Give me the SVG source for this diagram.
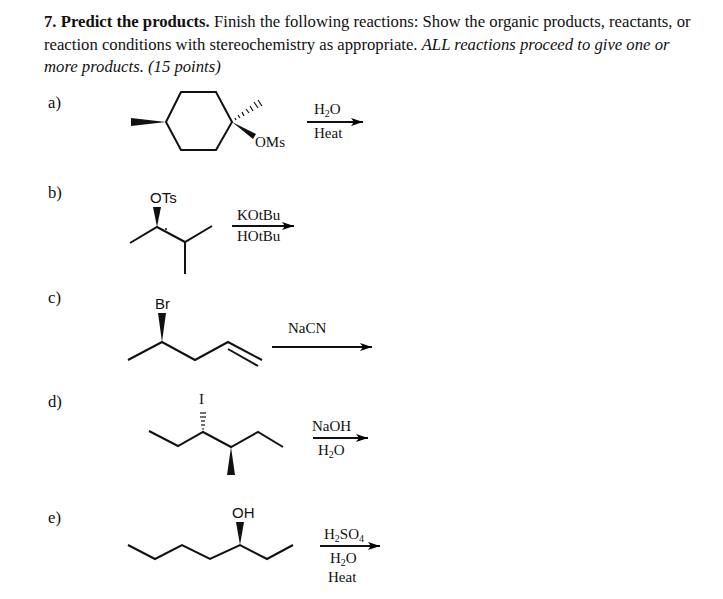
<svg xmlns="http://www.w3.org/2000/svg" width="723" height="599" viewBox="0 0 723 599">
<defs><marker id="ah" markerWidth="12" markerHeight="8" refX="12" refY="4" orient="auto" markerUnits="userSpaceOnUse"><path d="M0,0 L12,4 L0,8 L3,4 Z" fill="#000"/></marker></defs>
<style>
.t{font-family:"Liberation Serif",serif;font-size:16.7px;fill:#111}
.s{font-family:"Liberation Sans",sans-serif;font-size:15px;fill:#111}
.r{font-family:"Liberation Serif",serif;font-size:15px;fill:#111}
.b{stroke:#111;stroke-width:2;fill:none}
.w{fill:#111}
</style>
<rect width="723" height="599" fill="#fff"/>
<text class="t" x="44" y="27"><tspan font-weight="bold">7. Predict the products.</tspan> Finish the following reactions: Show the organic products, reactants, or</text>
<text class="t" x="44" y="50">reaction conditions with stereochemistry as appropriate. <tspan font-style="italic">ALL reactions proceed to give one or</tspan></text>
<text class="t" x="44" y="72" font-style="italic">more products. (15 points)</text>
<g id="a"><text class="t" x="48" y="108">a)</text>
<polygon class="b" points="166,122 181,92 216,92 232,122 216,150 181,150"/>
<polygon class="w" points="166,122 131,118 131,126"/>
<g stroke="#111" stroke-width="1.2"><line x1="236" y1="120" x2="235" y2="118"/><line x1="240" y1="118" x2="238" y2="115"/><line x1="244" y1="116" x2="242" y2="112"/><line x1="249" y1="113" x2="246" y2="109"/><line x1="253" y1="111" x2="250" y2="106"/><line x1="258" y1="108" x2="254" y2="102"/><line x1="262" y1="106" x2="258" y2="100"/></g>
<polygon class="w" points="232,122 256,134 253,139"/>
<text class="r" x="255" y="147">OMs</text>
<line class="b" x1="307" y1="122" x2="363" y2="122" stroke-width="1.2" marker-end="url(#ah)"/>
<text class="r" x="314" y="114">H<tspan font-size="10" dy="3">2</tspan><tspan dy="-3">O</tspan></text>
<text class="r" x="314" y="138">Heat</text></g>
<g id="b"><text class="t" x="48" y="198">b)</text>
<text class="s" x="150" y="203">OTs</text>
<polygon class="w" points="157,227 153,207 161,207"/>
<circle cx="166" cy="229" r="1" fill="#111"/>
<polyline class="b" points="130,243 157,227 185,242 212,226"/><line class="b" x1="185" y1="242" x2="185" y2="274"/>
<line class="b" x1="232" y1="226" x2="294" y2="226" stroke-width="1.2" marker-end="url(#ah)"/>
<text class="r" x="237" y="220">KOtBu</text><text class="r" x="237" y="241">HOtBu</text></g>
<g id="c"><text class="t" x="48" y="303">c)</text>
<text class="s" x="155" y="309">Br</text>
<polygon class="w" points="162,342 158,313 166,313"/>
<polyline class="b" points="128,360 162,342 195,360 228,342 262,360"/><line class="b" x1="228" y1="349" x2="258" y2="366" stroke-width="1.6"/>
<line class="b" x1="272" y1="347" x2="372" y2="347" stroke-width="1.2" marker-end="url(#ah)"/>
<text class="r" x="288" y="333">NaCN</text></g>
<g id="d"><text class="t" x="48" y="407">d)</text>
<text class="r" x="199" y="404">I</text>
<g stroke="#111" stroke-width="1.2"><line x1="202" y1="429" x2="204" y2="429"/><line x1="201" y1="425" x2="205" y2="425"/><line x1="201" y1="421" x2="205" y2="421"/><line x1="200" y1="417" x2="206" y2="417"/><line x1="200" y1="413" x2="206" y2="413"/></g>
<polyline class="b" points="149,431 178,446 203,432 231,447 258,432 283,447"/>
<polygon class="w" points="231,447 227,475 235,475"/>
<line class="b" x1="313" y1="438" x2="368" y2="438" stroke-width="1.2" marker-end="url(#ah)"/>
<text class="r" x="312" y="431">NaOH</text><text class="r" x="318" y="455">H<tspan font-size="10" dy="3">2</tspan><tspan dy="-3">O</tspan></text></g>
<g id="e"><text class="t" x="48" y="523">e)</text>
<text class="s" x="232" y="518">OH</text>
<polygon class="w" points="240,545 236,522 244,522"/>
<polyline class="b" points="128,545 155,559 182,545 210,559 240,545 267,559 293,545"/>
<line class="b" x1="320" y1="546" x2="380" y2="546" stroke-width="1.2" marker-end="url(#ah)"/>
<text class="r" x="324" y="539">H<tspan font-size="10" dy="3">2</tspan><tspan dy="-3">SO</tspan><tspan font-size="10" dy="3">4</tspan></text>
<text class="r" x="330" y="563">H<tspan font-size="10" dy="3">2</tspan><tspan dy="-3">O</tspan></text>
<text class="r" x="328" y="582">Heat</text></g>
</svg>
